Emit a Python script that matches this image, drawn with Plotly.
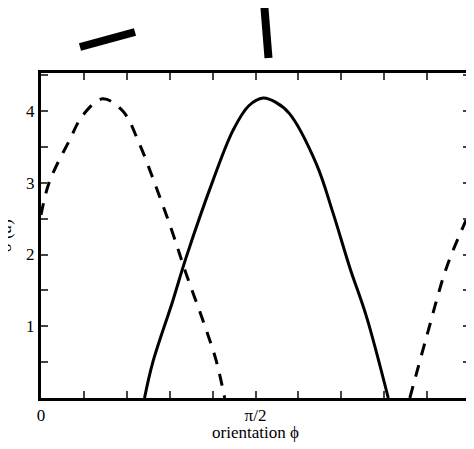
import numpy as np
import plotly.graph_objects as go

# solid curve sigma(a) vs orientation
solid_phi = [0.758, 0.819, 0.966, 1.063, 1.259, 1.406, 1.52, 1.626, 1.72, 1.821, 2.017, 2.140, 2.261, 2.384, 2.543]
solid_sig = [0.0, 0.5, 1.36, 1.96, 3.03, 3.73, 4.07, 4.18, 4.12, 3.96, 3.26, 2.57, 1.82, 1.13, 0.0]

# dashed curve (two branches)
dash_phi_a = [0.0, 0.061, 0.208, 0.306, 0.452, 0.599, 0.721, 0.843, 0.966, 1.063, 1.186, 1.283, 1.345]
dash_sig_a = [2.55, 3.01, 3.59, 3.94, 4.17, 4.0, 3.54, 2.94, 2.29, 1.73, 1.08, 0.52, 0.0]
dash_phi_b = [2.701, 2.823, 2.970, 3.117, 3.1416]
dash_sig_b = [0.0, 0.85, 1.82, 2.50, 2.61]

PI = np.pi
font = dict(family="Liberation Serif, Times New Roman, serif", size=17, color="black")

fig = go.Figure()
fig.add_trace(go.Scatter(x=solid_phi, y=solid_sig, mode="lines", line=dict(color="black", width=3, shape="spline")))
for px_, py_ in [(dash_phi_a, dash_sig_a), (dash_phi_b, dash_sig_b)]:
    fig.add_trace(go.Scatter(x=px_, y=py_, mode="lines",
                             line=dict(color="black", width=3, dash="12px,10px", shape="spline")))

# orientation glyphs above the plot
fig.add_shape(type="line", xref="paper", yref="paper", x0=(80 - 41) / 429, y0=(398 - 47) / 325,
              x1=(135 - 41) / 429, y1=(398 - 32) / 325, line=dict(color="black", width=8))
fig.add_shape(type="line", xref="paper", yref="paper", x0=(264 - 41) / 429, y0=(398 - 2) / 325,
              x1=(268.5 - 41) / 429, y1=(398 - 58) / 325, line=dict(color="black", width=8))

# axis titles
fig.add_annotation(text="orientation ϕ", xref="paper", yref="paper", x=0.5, y=-0.105,
                   xanchor="center", yanchor="middle", showarrow=False, font=font)
fig.add_annotation(text="σ (<i>a</i>)", xref="paper", yref="paper", x=-0.082, y=0.5, textangle=-90,
                   xanchor="center", yanchor="middle", showarrow=False, font=font)

fig.update_layout(
    width=466, height=441, showlegend=False,
    margin=dict(l=33, r=4, t=65, b=51, autoexpand=False),
    plot_bgcolor="white", paper_bgcolor="white", font=font,
)
fig.update_xaxes(range=[0, PI], tickvals=[0, PI / 2, PI], ticktext=["0", "π/2", "π"],
                 ticks="inside", ticklen=7, tickwidth=2, mirror="allticks", showline=True,
                 linewidth=3, linecolor="black", showgrid=False, zeroline=False,
                 minor=dict(tickvals=[i * PI / 10 for i in range(11)], ticks="inside", ticklen=7, tickwidth=2))
fig.update_yaxes(range=[0, 4.53], tickvals=[1, 2, 3, 4], ticks="inside", ticklen=7, tickwidth=2,
                 mirror="allticks", showline=True, linewidth=3, linecolor="black", showgrid=False,
                 zeroline=False, minor=dict(tickvals=[0.5, 1.5, 2.5, 3.5, 4.5], ticks="inside", ticklen=7, tickwidth=2))
fig.write_html("out.html")
